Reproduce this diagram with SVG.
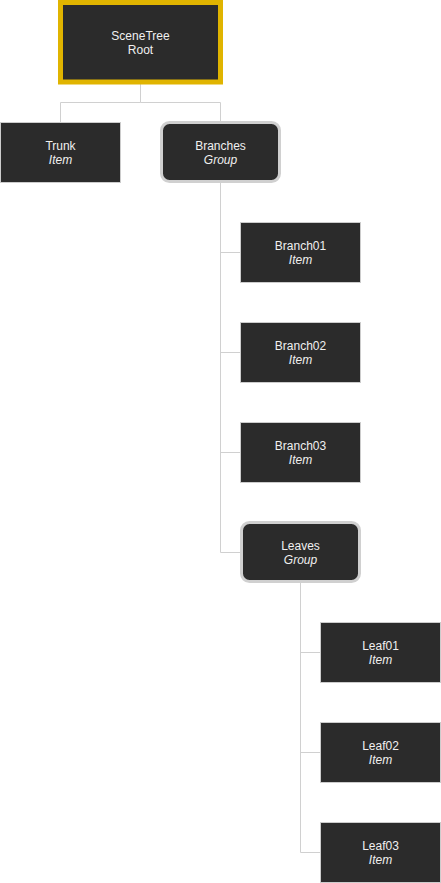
<svg xmlns="http://www.w3.org/2000/svg" width="441" height="883" viewBox="0 0 441 883">
<style>
.n{fill:#2b2b2b;stroke:#cccccc;stroke-width:1}
.g{fill:#2b2b2b;stroke:#d0d0d0;stroke-width:3}
.r{fill:#2b2b2b;stroke:#e0b400;stroke-width:5}
.c{fill:none;stroke:#d0d0d0;stroke-width:1}
text{font-family:"Liberation Sans",Arial,sans-serif;font-size:12px;fill:#f0f0f0;text-anchor:middle}
.i{font-style:italic}
</style>
<rect width="441" height="883" fill="#ffffff"/>
<g id="connectors">
<path class="c" d="M140.5 84V102.5H60.5V122M140.5 102.5H220.5V122"/>
<path class="c" d="M220.5 182V552.5M220.5 252.5H240M220.5 352.5H240M220.5 452.5H240M220.5 552.5H240"/>
<path class="c" d="M300.5 582V852.5M300.5 652.5H320M300.5 752.5H320M300.5 852.5H320"/>
</g>
<g id="root"><rect class="r" x="60.5" y="2.5" width="160" height="79.5"/><text x="140.5" y="40">SceneTree</text><text x="140.5" y="54">Root</text></g>
<g id="trunk"><rect class="n" x="0.5" y="122.5" width="120" height="60"/><text x="60.5" y="149.5">Trunk</text><text class="i" x="60.5" y="163.5">Item</text></g>
<g id="branches"><rect class="g" x="161.5" y="122.5" width="118" height="59" rx="8"/><text x="220.5" y="149.5">Branches</text><text class="i" x="220.5" y="163.5">Group</text></g>
<g id="branch01"><rect class="n" x="240.5" y="222.5" width="120" height="60"/><text x="300.5" y="249.5">Branch01</text><text class="i" x="300.5" y="263.5">Item</text></g>
<g id="branch02"><rect class="n" x="240.5" y="322.5" width="120" height="60"/><text x="300.5" y="349.5">Branch02</text><text class="i" x="300.5" y="363.5">Item</text></g>
<g id="branch03"><rect class="n" x="240.5" y="422.5" width="120" height="60"/><text x="300.5" y="449.5">Branch03</text><text class="i" x="300.5" y="463.5">Item</text></g>
<g id="leaves"><rect class="g" x="241.5" y="522.5" width="118" height="59" rx="8"/><text x="300.5" y="549.5">Leaves</text><text class="i" x="300.5" y="563.5">Group</text></g>
<g id="leaf01"><rect class="n" x="320.5" y="622.5" width="120" height="60"/><text x="380.5" y="649.5">Leaf01</text><text class="i" x="380.5" y="663.5">Item</text></g>
<g id="leaf02"><rect class="n" x="320.5" y="722.5" width="120" height="60"/><text x="380.5" y="749.5">Leaf02</text><text class="i" x="380.5" y="763.5">Item</text></g>
<g id="leaf03"><rect class="n" x="320.5" y="822.5" width="120" height="60"/><text x="380.5" y="849.5">Leaf03</text><text class="i" x="380.5" y="863.5">Item</text></g>
</svg>
